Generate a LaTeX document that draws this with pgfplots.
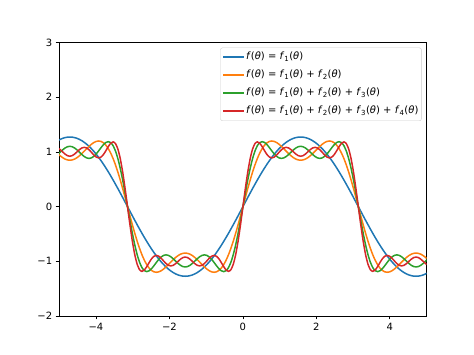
\documentclass[border=0pt]{standalone}
\usepackage{fontspec}
\setmainfont{DejaVu Sans}
\usepackage{pgfplots}
\usepackage{pgfplotstable}
\pgfplotsset{compat=1.18}
\definecolor{c0}{HTML}{1F77B4}
\definecolor{c1}{HTML}{FF7F0E}
\definecolor{c2}{HTML}{2CA02C}
\definecolor{c3}{HTML}{D62728}
\newcommand{\FF}{\textit{f}(\textit{θ})}
\newcommand{\F}[1]{\textit{f}\textsubscript{#1}(\textit{θ})}
\pgfplotstableread{
x a b c d
-5.0396 1.2057 0.9699 0.9532 1.0731
-4.9742 1.2299 0.9298 0.9957 1.0427
-4.9087 1.2488 0.8959 1.0374 1.0019
-4.8433 1.2623 0.8702 1.0723 0.9616
-4.7778 1.2705 0.8543 1.0954 0.9322
-4.7124 1.2732 0.8488 1.1035 0.9216
-4.6469 1.2705 0.8543 1.0954 0.9322
-4.5815 1.2623 0.8702 1.0723 0.9616
-4.5160 1.2488 0.8959 1.0374 1.0019
-4.4506 1.2299 0.9298 0.9957 1.0427
-4.3851 1.2057 0.9699 0.9532 1.0731
-4.3197 1.1763 1.0139 0.9165 1.0845
-4.2542 1.1419 1.0591 0.8912 1.0727
-4.1888 1.1027 1.1027 0.8821 1.0396
-4.1233 1.0587 1.1415 0.8917 0.9928
-4.0579 1.0101 1.1725 0.9201 0.9438
-3.9924 0.9573 1.1931 0.9647 0.9062
-3.9270 0.9003 1.2004 1.0204 0.8918
-3.8615 0.8395 1.1924 1.0798 0.9075
-3.7961 0.7751 1.1672 1.1340 0.9537
-3.7306 0.7074 1.1236 1.1733 1.0221
-3.6652 0.6366 1.0610 1.1884 1.0974
-3.5997 0.5631 0.9794 1.1709 1.1590
-3.5343 0.4872 0.8794 1.1146 1.1842
-3.4688 0.4093 0.7622 1.0163 1.1530
-3.4034 0.3295 0.6296 0.8756 1.0513
-3.3379 0.2484 0.4842 0.6959 0.8743
-3.2725 0.1662 0.3286 0.4836 0.6279
-3.2070 0.0833 0.1661 0.2479 0.3284
-3.1416 0 0 0 0
-3.0761 -0.0833 -0.1661 -0.2479 -0.3284
-3.0107 -0.1662 -0.3286 -0.4836 -0.6279
-2.9452 -0.2484 -0.4842 -0.6959 -0.8743
-2.8798 -0.3295 -0.6296 -0.8756 -1.0513
-2.8143 -0.4093 -0.7622 -1.0163 -1.1530
-2.7489 -0.4872 -0.8794 -1.1146 -1.1842
-2.6834 -0.5631 -0.9794 -1.1709 -1.1590
-2.6180 -0.6366 -1.0610 -1.1884 -1.0974
-2.5525 -0.7074 -1.1236 -1.1733 -1.0221
-2.4871 -0.7751 -1.1672 -1.1340 -0.9537
-2.4216 -0.8395 -1.1924 -1.0798 -0.9075
-2.3562 -0.9003 -1.2004 -1.0204 -0.8918
-2.2907 -0.9573 -1.1931 -0.9647 -0.9062
-2.2253 -1.0101 -1.1725 -0.9201 -0.9438
-2.1598 -1.0587 -1.1415 -0.8917 -0.9928
-2.0944 -1.1027 -1.1027 -0.8821 -1.0396
-2.0289 -1.1419 -1.0591 -0.8912 -1.0727
-1.9635 -1.1763 -1.0139 -0.9165 -1.0845
-1.8980 -1.2057 -0.9699 -0.9532 -1.0731
-1.8326 -1.2299 -0.9298 -0.9957 -1.0427
-1.7671 -1.2488 -0.8959 -1.0374 -1.0019
-1.7017 -1.2623 -0.8702 -1.0723 -0.9616
-1.6362 -1.2705 -0.8543 -1.0954 -0.9322
-1.5708 -1.2732 -0.8488 -1.1035 -0.9216
-1.5053 -1.2705 -0.8543 -1.0954 -0.9322
-1.4399 -1.2623 -0.8702 -1.0723 -0.9616
-1.3744 -1.2488 -0.8959 -1.0374 -1.0019
-1.3090 -1.2299 -0.9298 -0.9957 -1.0427
-1.2435 -1.2057 -0.9699 -0.9532 -1.0731
-1.1781 -1.1763 -1.0139 -0.9165 -1.0845
-1.1126 -1.1419 -1.0591 -0.8912 -1.0727
-1.0472 -1.1027 -1.1027 -0.8821 -1.0396
-0.9817 -1.0587 -1.1415 -0.8917 -0.9928
-0.9163 -1.0101 -1.1725 -0.9201 -0.9438
-0.8508 -0.9573 -1.1931 -0.9647 -0.9062
-0.7854 -0.9003 -1.2004 -1.0204 -0.8918
-0.7199 -0.8395 -1.1924 -1.0798 -0.9075
-0.6545 -0.7751 -1.1672 -1.1340 -0.9537
-0.5890 -0.7074 -1.1236 -1.1733 -1.0221
-0.5236 -0.6366 -1.0610 -1.1884 -1.0974
-0.4581 -0.5631 -0.9794 -1.1709 -1.1590
-0.3927 -0.4872 -0.8794 -1.1146 -1.1842
-0.3272 -0.4093 -0.7622 -1.0163 -1.1530
-0.2618 -0.3295 -0.6296 -0.8756 -1.0513
-0.1963 -0.2484 -0.4842 -0.6959 -0.8743
-0.1309 -0.1662 -0.3286 -0.4836 -0.6279
-0.0654 -0.0833 -0.1661 -0.2479 -0.3284
0 0 0 0 0
0.0654 0.0833 0.1661 0.2479 0.3284
0.1309 0.1662 0.3286 0.4836 0.6279
0.1963 0.2484 0.4842 0.6959 0.8743
0.2618 0.3295 0.6296 0.8756 1.0513
0.3272 0.4093 0.7622 1.0163 1.1530
0.3927 0.4872 0.8794 1.1146 1.1842
0.4581 0.5631 0.9794 1.1709 1.1590
0.5236 0.6366 1.0610 1.1884 1.0974
0.5890 0.7074 1.1236 1.1733 1.0221
0.6545 0.7751 1.1672 1.1340 0.9537
0.7199 0.8395 1.1924 1.0798 0.9075
0.7854 0.9003 1.2004 1.0204 0.8918
0.8508 0.9573 1.1931 0.9647 0.9062
0.9163 1.0101 1.1725 0.9201 0.9438
0.9817 1.0587 1.1415 0.8917 0.9928
1.0472 1.1027 1.1027 0.8821 1.0396
1.1126 1.1419 1.0591 0.8912 1.0727
1.1781 1.1763 1.0139 0.9165 1.0845
1.2435 1.2057 0.9699 0.9532 1.0731
1.3090 1.2299 0.9298 0.9957 1.0427
1.3744 1.2488 0.8959 1.0374 1.0019
1.4399 1.2623 0.8702 1.0723 0.9616
1.5053 1.2705 0.8543 1.0954 0.9322
1.5708 1.2732 0.8488 1.1035 0.9216
1.6362 1.2705 0.8543 1.0954 0.9322
1.7017 1.2623 0.8702 1.0723 0.9616
1.7671 1.2488 0.8959 1.0374 1.0019
1.8326 1.2299 0.9298 0.9957 1.0427
1.8980 1.2057 0.9699 0.9532 1.0731
1.9635 1.1763 1.0139 0.9165 1.0845
2.0289 1.1419 1.0591 0.8912 1.0727
2.0944 1.1027 1.1027 0.8821 1.0396
2.1598 1.0587 1.1415 0.8917 0.9928
2.2253 1.0101 1.1725 0.9201 0.9438
2.2907 0.9573 1.1931 0.9647 0.9062
2.3562 0.9003 1.2004 1.0204 0.8918
2.4216 0.8395 1.1924 1.0798 0.9075
2.4871 0.7751 1.1672 1.1340 0.9537
2.5525 0.7074 1.1236 1.1733 1.0221
2.6180 0.6366 1.0610 1.1884 1.0974
2.6834 0.5631 0.9794 1.1709 1.1590
2.7489 0.4872 0.8794 1.1146 1.1842
2.8143 0.4093 0.7622 1.0163 1.1530
2.8798 0.3295 0.6296 0.8756 1.0513
2.9452 0.2484 0.4842 0.6959 0.8743
3.0107 0.1662 0.3286 0.4836 0.6279
3.0761 0.0833 0.1661 0.2479 0.3284
3.1416 0 0 0 0
3.2070 -0.0833 -0.1661 -0.2479 -0.3284
3.2725 -0.1662 -0.3286 -0.4836 -0.6279
3.3379 -0.2484 -0.4842 -0.6959 -0.8743
3.4034 -0.3295 -0.6296 -0.8756 -1.0513
3.4688 -0.4093 -0.7622 -1.0163 -1.1530
3.5343 -0.4872 -0.8794 -1.1146 -1.1842
3.5997 -0.5631 -0.9794 -1.1709 -1.1590
3.6652 -0.6366 -1.0610 -1.1884 -1.0974
3.7306 -0.7074 -1.1236 -1.1733 -1.0221
3.7961 -0.7751 -1.1672 -1.1340 -0.9537
3.8615 -0.8395 -1.1924 -1.0798 -0.9075
3.9270 -0.9003 -1.2004 -1.0204 -0.8918
3.9924 -0.9573 -1.1931 -0.9647 -0.9062
4.0579 -1.0101 -1.1725 -0.9201 -0.9438
4.1233 -1.0587 -1.1415 -0.8917 -0.9928
4.1888 -1.1027 -1.1027 -0.8821 -1.0396
4.2542 -1.1419 -1.0591 -0.8912 -1.0727
4.3197 -1.1763 -1.0139 -0.9165 -1.0845
4.3851 -1.2057 -0.9699 -0.9532 -1.0731
4.4506 -1.2299 -0.9298 -0.9957 -1.0427
4.5160 -1.2488 -0.8959 -1.0374 -1.0019
4.5815 -1.2623 -0.8702 -1.0723 -0.9616
4.6469 -1.2705 -0.8543 -1.0954 -0.9322
4.7124 -1.2732 -0.8488 -1.1035 -0.9216
4.7778 -1.2705 -0.8543 -1.0954 -0.9322
4.8433 -1.2623 -0.8702 -1.0723 -0.9616
4.9087 -1.2488 -0.8959 -1.0374 -1.0019
4.9742 -1.2299 -0.9298 -0.9957 -1.0427
5.0396 -1.2057 -0.9699 -0.9532 -1.0731
}\datatable
\begin{document}
\begin{tikzpicture}
\useasboundingbox (-59.25pt,-39pt) rectangle (414.75pt,316pt);
\begin{axis}[
  at={(0pt,0pt)}, anchor=south west,
  scale only axis,
  width=367.35pt, height=273.4pt,
  xmin=-5, xmax=5, ymin=-2, ymax=3,
  xtick={-4,-2,0,2,4}, xticklabels={−4,−2,0,2,4},
  ytick={-2,-1,0,1,2,3}, yticklabels={−2,−1,0,1,2,3},
  tick align=outside, tick pos=left,
  major tick length=3.5pt,
  every tick/.style={black, line width=0.8pt},
  axis line style={line width=0.8pt},
  ticklabel style={font=\fontsize{10}{12}\selectfont},
  legend cell align=left,
  legend image code/.code={\draw[#1, line width=1.6pt] (0pt,0pt) -- (21pt,0pt);},
  legend style={at={(1,1)}, anchor=north east, xshift=-5pt, yshift=-5pt,
    font=\fontsize{10}{12}\selectfont, draw=black!20, fill=white, fill opacity=0.8, text opacity=1,
    rounded corners=2pt, inner xsep=2pt, inner ysep=3pt, row sep=5pt,
    nodes={inner sep=1pt, text height=8pt, text depth=3pt}},
]
\addplot[c0, line width=1.5pt, smooth, tension=0.4] table[x=x, y=a] {\datatable};
\addlegendentry{\FF{} = \F{1}}
\addplot[c1, line width=1.5pt, smooth, tension=0.4] table[x=x, y=b] {\datatable};
\addlegendentry{\FF{} = \F{1} + \F{2}}
\addplot[c2, line width=1.5pt, smooth, tension=0.4] table[x=x, y=c] {\datatable};
\addlegendentry{\FF{} = \F{1} + \F{2} + \F{3}}
\addplot[c3, line width=1.5pt, smooth, tension=0.4] table[x=x, y=d] {\datatable};
\addlegendentry{\FF{} = \F{1} + \F{2} + \F{3} + \F{4}}
\end{axis}
\end{tikzpicture}
\end{document}
